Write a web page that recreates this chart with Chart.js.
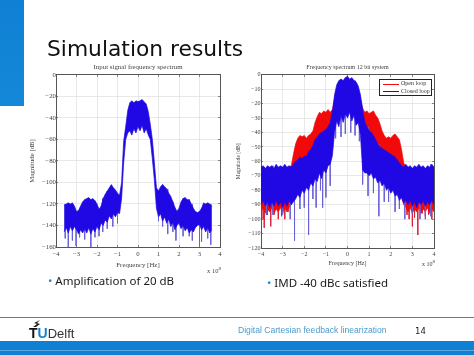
<!DOCTYPE html>
<html><head><meta charset="utf-8">
<script src="https://cdn.jsdelivr.net/npm/chart.js@4"></script>
<style>
html,body{margin:0;padding:0;background:#fff;width:474px;height:355px;overflow:hidden}
.a{position:absolute;white-space:nowrap}
canvas{position:absolute;filter:blur(0.45px)}
.soft{filter:blur(0.35px)}
sup{font-size:5px;vertical-align:3px}
</style></head><body>
<div class="a" style="left:0;top:0;width:24px;height:106px;background:linear-gradient(#1080d4,#1488d8)"></div>
<div class="a soft" id="pageTitle" style="left:47px;top:36px;font:21.8px 'DejaVu Sans';color:#111">Simulation results</div>
<div class="a" style="left:0;top:317px;width:474px;height:1px;background:#777"></div>
<div class="a" style="left:0;top:341px;width:474px;height:14px;background:#1080d4"></div>
<div class="a" style="left:0;top:350px;width:474px;height:1px;background:#5aa9e2"></div>

<div style="position:absolute;left:0;top:0;width:474px;height:355px">
<canvas id="left" width="220" height="215" style="left:28px;top:60px;width:220px;height:215px"></canvas>
<canvas id="right" width="225" height="215" style="left:235px;top:60px;width:225px;height:215px"></canvas>
</div>

<div class="a soft" style="left:207px;top:266px;font:6.5px 'Liberation Serif';color:#444">x 10<sup>8</sup></div>
<div class="a soft" style="left:422px;top:259px;font:6px 'Liberation Serif';color:#444">x 10<sup>8</sup></div>

<div id="legend" class="a soft" style="left:379px;top:79px;width:51px;height:15px;background:#fff;border:1px solid #222;font:6px/7.5px 'Liberation Serif';color:#333"></div>

<div class="a soft" style="left:48px;top:273px;font:11.5px 'Noto Sans';color:#1a1a1a"><span style="color:#1f86cc">•</span>&nbsp;Amplification of 20 dB</div>
<div class="a soft" style="left:267px;top:275px;font:11.5px 'Noto Sans';color:#1a1a1a"><span style="color:#1f86cc">•</span>&nbsp;IMD -40 dBc satisfied</div>

<svg class="a" style="left:30px;top:319px" width="14" height="9" viewBox="0 0 14 9"><path d="M3 8 L7 5 L4 4 L10 1 L7 4 L10 5 L6 8 Z" fill="#222"/></svg>
<div class="a soft" style="left:29px;top:326px;font:bold 14px/14px 'Liberation Sans';color:#111">T<span style="color:#1383d0">U</span><span style="font-weight:normal;color:#333;font-size:13px">Delft</span></div>
<div class="a soft" style="left:238px;top:325px;font:8.6px 'Liberation Sans';color:#4b9bcb">Digital Cartesian feedback linearization</div>
<div class="a soft" style="left:415px;top:326px;font:8.5px 'DejaVu Sans';color:#222">14</div>

<script>
// ---- left panel: Input signal frequency spectrum (frequency in units of 1e8 Hz, magnitude in dB)
const inputTitle = 'Input signal frequency spectrum';
const inputFreq = [-3.6,-3.5,-3.4,-3.3,-3.2,-3.1,-3.0,-2.9,-2.8,-2.7,-2.6,-2.5,-2.4,-2.3,-2.2,-2.1,-2.0,-1.9,-1.8,-1.7,-1.6,-1.5,-1.4,-1.3,-1.2,-1.1,-1.0,-0.9,-0.8,-0.7,-0.6,-0.5,-0.4,-0.3,-0.2,-0.1,0,0.1,0.2,0.3,0.4,0.5,0.6,0.7,0.8,0.9,1.0,1.1,1.2,1.3,1.4,1.5,1.6,1.7,1.8,1.9,2.0,2.1,2.2,2.3,2.4,2.5,2.6,2.7,2.8,2.9,3.0,3.1,3.2,3.3,3.4,3.5,3.6];
const inputTop = [-121,-120,-119,-120,-119,-122,-127,-126,-122,-118,-116,-115,-114,-116,-115,-117,-120,-125,-122,-115,-111,-108,-105,-102,-105,-107,-110,-112,-100,-62,-48,-33,-26,-24,-26,-24,-25,-24,-23,-25,-27,-34,-46,-60,-82,-105,-108,-104,-102,-104,-106,-110,-113,-118,-123,-127,-124,-118,-115,-114,-116,-116,-120,-124,-127,-128,-127,-124,-119,-120,-119,-120,-122];
const inputBottom = [-146,-142,-147,-141,-145,-141,-144,-148,-144,-147,-143,-147,-142,-148,-143,-146,-141,-144,-138,-140,-135,-137,-131,-134,-129,-132,-128,-129,-115,-82,-60,-54,-52,-56,-50,-54,-48,-52,-47,-54,-50,-56,-60,-78,-98,-124,-132,-129,-136,-132,-138,-134,-141,-137,-144,-140,-138,-143,-140,-145,-142,-147,-144,-146,-142,-140,-139,-144,-141,-146,-142,-147,-144];
const inputSpikeFreq = [-3.55,-3.4,-3.2,-3.02,-2.85,-2.6,-2.3,-2.1,-1.9,-1.72,-1.5,-1.23,-1.0,1.0,1.2,1.45,1.7,1.85,2.2,2.5,2.65,3.0,3.1,3.4,3.55];
const inputSpikeDepth = [-152,-160,-154,-159,-151,-153,-160,-151,-150,-146,-143,-141,-138,-136,-141,-148,-146,-154,-150,-150,-154,-160,-155,-152,-158];

// ---- right panel: Frequency spectrum 12 bit system
const systemTitle = 'Frequency spectrum 12 bit system';
const seriesNames = ['Open loop','Closed loop'];
const systemFreq = [-4.0,-3.9,-3.8,-3.7,-3.6,-3.5,-3.4,-3.3,-3.2,-3.1,-3.0,-2.9,-2.8,-2.7,-2.6,-2.5,-2.4,-2.3,-2.2,-2.1,-2.0,-1.9,-1.8,-1.7,-1.6,-1.5,-1.4,-1.3,-1.2,-1.1,-1.0,-0.9,-0.8,-0.7,-0.6,-0.5,-0.4,-0.3,-0.2,-0.1,0,0.1,0.2,0.3,0.4,0.5,0.6,0.7,0.8,0.9,1.0,1.1,1.2,1.3,1.4,1.5,1.6,1.7,1.8,1.9,2.0,2.1,2.2,2.3,2.4,2.5,2.6,2.7,2.8,2.9,3.0,3.1,3.2,3.3,3.4,3.5,3.6,3.7,3.8,3.9,4.0];
const closedTop = [-64,-63,-65,-63,-64,-63,-65,-62,-64,-63,-64,-62,-64,-63,-64,-62,-60,-59,-57,-58,-56,-57,-53,-52,-49,-45,-43,-41,-40,-39,-38,-36,-33,-26,-14,-7,-4,-3,-4,-2,-1,-3,-2,-4,-5,-8,-14,-24,-33,-36,-39,-40,-42,-45,-48,-50,-51,-52,-53,-54,-55,-56,-57,-59,-61,-63,-64,-62,-64,-63,-65,-63,-64,-62,-64,-63,-65,-63,-64,-62,-64];
const closedBottom = [-90,-87,-91,-88,-92,-88,-91,-87,-91,-88,-92,-88,-91,-87,-90,-88,-86,-83,-85,-80,-82,-78,-80,-75,-77,-72,-74,-68,-72,-66,-68,-63,-62,-56,-40,-32,-36,-28,-33,-27,-30,-26,-32,-28,-35,-33,-42,-66,-68,-68,-70,-68,-72,-71,-75,-73,-77,-75,-80,-78,-82,-80,-84,-83,-87,-85,-89,-87,-90,-87,-91,-88,-92,-88,-90,-87,-91,-88,-90,-87,-90];
const openTop = [-65,-64,-66,-64,-65,-64,-66,-64,-65,-64,-65,-64,-65,-64,-63,-55,-48,-44,-42,-43,-42,-44,-42,-41,-39,-33,-29,-26,-27,-25,-26,-24,-26,-24,-17,-10,-6,-4,-5,-3,-2,-4,-3,-5,-7,-11,-17,-23,-26,-25,-27,-26,-25,-28,-30,-34,-39,-42,-44,-43,-44,-42,-41,-43,-45,-52,-61,-64,-65,-64,-65,-64,-66,-64,-65,-64,-66,-64,-65,-64,-65];
const openBottom = [-95,-92,-96,-93,-95,-92,-96,-93,-95,-92,-96,-92,-95,-92,-90,-85,-80,-80,-75,-75,-70,-70,-70,-65,-65,-60,-60,-55,-55,-50,-50,-45,-45,-40,-30,-25,-25,-20,-20,-20,-20,-20,-20,-20,-25,-25,-30,-40,-45,-45,-50,-50,-55,-55,-60,-60,-65,-65,-70,-70,-70,-75,-75,-80,-80,-85,-90,-92,-95,-92,-96,-93,-95,-92,-96,-93,-95,-92,-96,-93,-95];
const openSpikeFreq = [-3.9,-3.85,-3.7,-3.55,-3.4,-3.2,-3.05,-2.9,-2.75,2.75,2.85,3.0,3.1,3.25,3.45,3.6,3.75,3.9];
const openSpikeDepth = [-100,-106,-97,-105,-97,-100,-98,-100,-95,-97,-100,-105,-99,-111,-96,-98,-97,-100];
const closedSpikeFreq = [-3.75,-3.45,-3.0,-2.65,-2.45,-2.2,-2.0,-1.8,-1.6,-1.45,-1.25,-1.15,-1.0,-0.8,-0.55,-0.3,-0.1,0.15,0.35,0.55,0.7,0.95,1.2,1.45,1.7,1.9,2.2,2.4,2.65,3.0,3.35,3.6,3.85];
const closedSpikeDepth = [-97,-97,-97,-100,-115,-93,-92,-111,-86,-92,-80,-92,-85,-77,-44,-43,-41,-40,-42,-46,-76,-84,-82,-98,-88,-88,-95,-93,-100,-96,-100,-100,-98];

const BLUE='#2008e4', RED='#f20a0a', LBLUE='#6a60d8', LRED='#d8203c';
const pairs=(xs,ys)=>xs.map((x,i)=>({x,y:ys[i]}));
function spikes(xs,depths,freq,top){
  const out=[];
  xs.forEach((x,i)=>{
    let k=0; freq.forEach((f,j)=>{ if(Math.abs(f-x)<Math.abs(freq[k]-x)) k=j; });
    out.push({x,y:top[k]},{x,y:depths[i]},{x,y:null});
  });
  return out;
}
function band(label,xs,top,bottom,color){
  return [
    {label,data:pairs(xs,top),borderColor:color,backgroundColor:color,borderWidth:0.7,pointRadius:0,tension:0,fill:'+1'},
    {label:label+' lower',data:pairs(xs,bottom),borderColor:color,borderWidth:0.7,pointRadius:0,tension:0,fill:false}
  ];
}
function spikeSet(label,data,color){
  return {label,data,borderColor:color,borderWidth:0.9,pointRadius:0,tension:0,fill:false,spanGaps:false};
}
const serif="'Liberation Serif'";
function makeOptions(c){
  const tickFont={family:serif,size:c.tick};
  const gridBase={color:'#dedede',borderDash:[1,3],tickColor:'#555',tickBorderDash:[],tickLength:-2,lineWidth:0.7,tickWidth:0.7};
  const hidden={drawOnChartArea:false,tickColor:'#555',tickLength:-2,tickWidth:0.7};
  const border={color:'#555',width:1};
  const minus=v=>String(v).replace('-','\u2212');
  return {
    responsive:false,animation:false,
    layout:{padding:{left:0,top:0,bottom:c.padB,right:0}},
    plugins:{legend:{display:false},tooltip:{enabled:false},
      title:{display:true,text:c.title,color:'#444',font:{family:serif,size:c.titleSize,weight:'normal'},padding:{top:c.titleTop,bottom:c.titleBot}}},
    scales:{
      x:{type:'linear',position:'bottom',min:-4,max:4,ticks:{stepSize:1,color:'#444',font:tickFont,padding:5,maxRotation:0,callback:minus},
         grid:gridBase,border,title:{display:true,text:'Frequency [Hz]',color:'#444',font:{family:serif,size:c.xTitle},padding:{top:0,bottom:0}},afterFit:s=>{s.height=c.xH;}},
      y:{type:'linear',position:'left',min:c.yMin,max:0,ticks:{stepSize:c.yStep,autoSkip:false,color:'#444',font:tickFont,padding:c.yPad,callback:minus},
         grid:gridBase,border,title:{display:true,text:'Magnitude [dB]',color:'#444',font:{family:serif,size:c.yTitle},padding:{top:0,bottom:0}},afterFit:s=>{s.width=c.yW;}},
      x2:{type:'linear',position:'top',min:-4,max:4,ticks:{stepSize:1,display:false},grid:hidden,border,afterFit:s=>{s.height=0;}},
      y2:{type:'linear',position:'right',min:c.yMin,max:0,ticks:{stepSize:c.yStep,display:false},grid:hidden,border,afterFit:s=>{s.width=c.rightW;}}
    }
  };
}
new Chart(document.getElementById('left'),{type:'line',
  data:{datasets:[
    ...band('Input',inputFreq,inputTop,inputBottom,BLUE),
    spikeSet('Input dips',spikes(inputSpikeFreq,inputSpikeDepth,inputFreq,inputTop),LBLUE)
  ]},
  options:makeOptions({title:inputTitle,yMin:-160,yStep:20,yW:28,xH:22,padB:6,rightW:28,titleTop:3,titleBot:3.6,tick:6.8,titleSize:6.9,xTitle:6.9,yTitle:6.8,yPad:2})});
new Chart(document.getElementById('right'),{type:'line',
  data:{datasets:[
    ...band(seriesNames[1],systemFreq,closedTop,closedBottom,BLUE),
    spikeSet('Closed dips',spikes(closedSpikeFreq,closedSpikeDepth,systemFreq,closedTop),LBLUE),
    ...band(seriesNames[0],systemFreq,openTop,openBottom,RED),
    spikeSet('Open dips',spikes(openSpikeFreq,openSpikeDepth,systemFreq,openTop),LRED)
  ]},
  options:makeOptions({title:systemTitle,yMin:-120,yStep:10,yW:26,xH:19,padB:8,rightW:26,titleTop:4,titleBot:3.6,tick:6.1,titleSize:6,xTitle:6,yTitle:5.6,yPad:2.5})});

const legendColors=[RED,BLUE];
document.getElementById('legend').innerHTML=seriesNames.map((n,i)=>
  `<div style="position:relative;height:7.5px"><span style="position:absolute;left:3px;top:3.5px;width:16px;height:1px;background:${legendColors[i]}"></span><span style="position:absolute;left:21px;top:0">${n}</span></div>`).join('');
</script>
</body></html>
